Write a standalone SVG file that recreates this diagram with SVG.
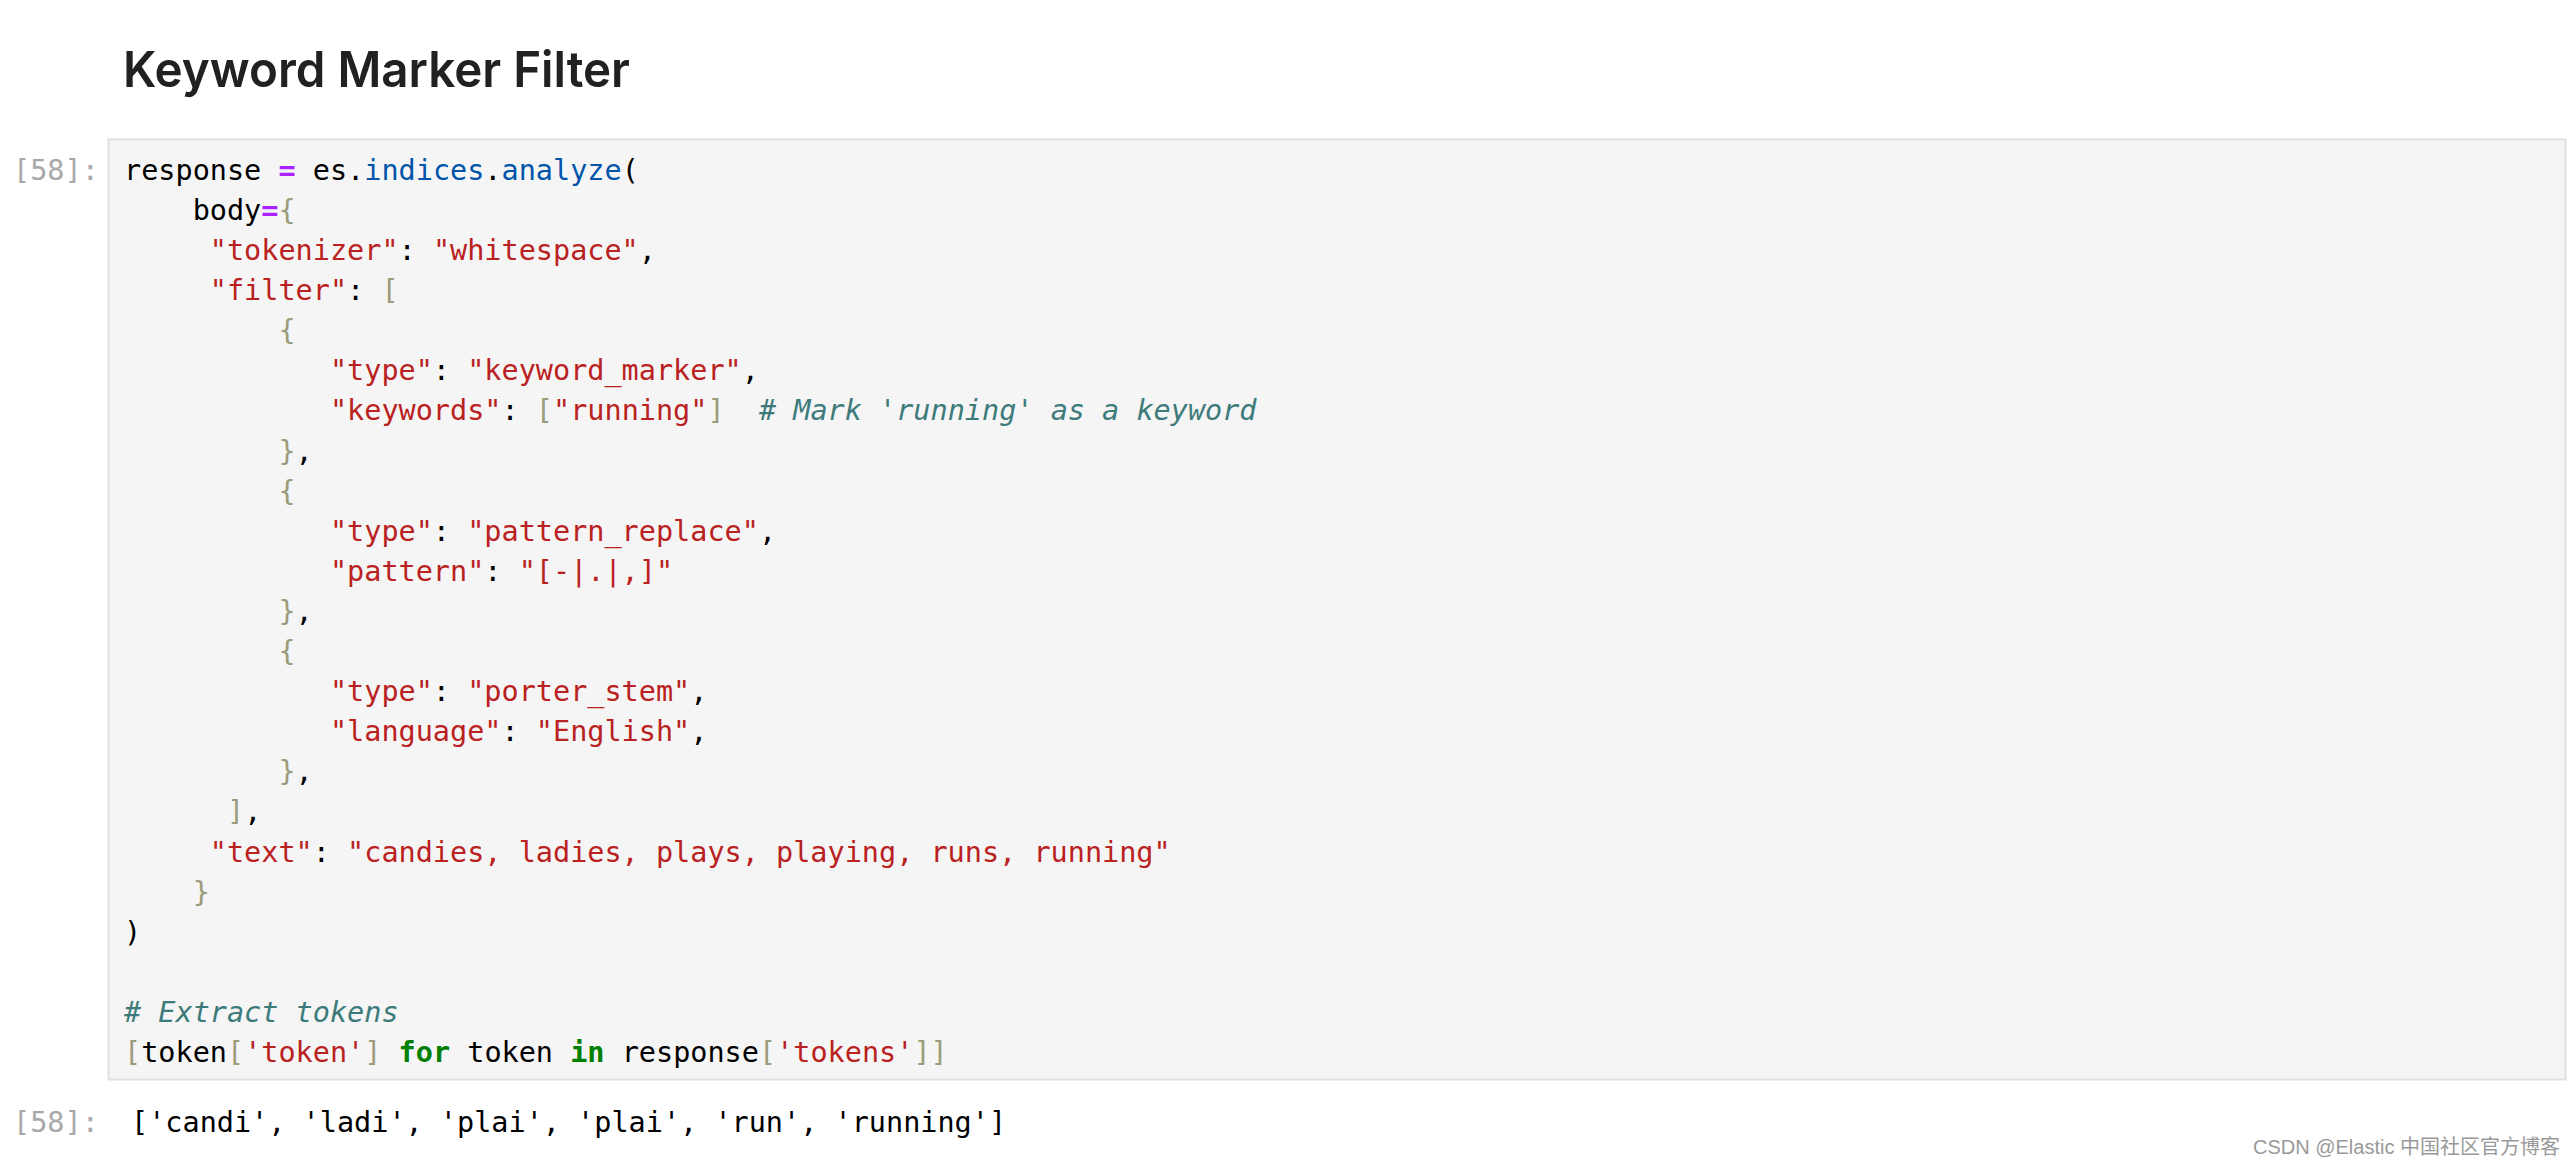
<svg xmlns="http://www.w3.org/2000/svg" width="2574" height="1166" viewBox="0 0 2574 1166">
<style>
.c{font-family:"DejaVu Sans Mono","Liberation Mono",monospace;font-size:28.5px;fill:#000;white-space:pre}
.p{font-family:"DejaVu Sans Mono","Liberation Mono",monospace;font-size:28.5px;fill:#a8a8a8}
.s{fill:#ba2121}.o{fill:#9c9c7c}.e{fill:#aa22ff;font-weight:bold}.b{fill:#0055aa}
.m{fill:#3d7b7b;font-style:italic}.k{fill:#008000;font-weight:bold}
</style>
<rect width="2574" height="1166" fill="#fff"/>
<g id="title"><text x="123" y="87" font-family="Inter,'Liberation Sans',sans-serif" font-size="50" font-weight="600" fill="#212121" textLength="507" lengthAdjust="spacingAndGlyphs">Keyword Marker Filter</text></g>
<g id="code-cell">
<rect x="108.5" y="139.5" width="2457" height="940" fill="#f5f5f5" stroke="#e0e0e0" stroke-width="2"/>
<text class="p" x="13" y="180">[58]:</text>
<text class="c" x="124" y="180" xml:space="preserve">response <tspan class="e">=</tspan> es.<tspan class="b">indices</tspan>.<tspan class="b">analyze</tspan>(</text>
<text class="c" x="124" y="220" xml:space="preserve">    body<tspan class="e">=</tspan><tspan class="o">{</tspan></text>
<text class="c" x="124" y="260" xml:space="preserve">     <tspan class="s">"tokenizer"</tspan>: <tspan class="s">"whitespace"</tspan>,</text>
<text class="c" x="124" y="300" xml:space="preserve">     <tspan class="s">"filter"</tspan>: <tspan class="o">[</tspan></text>
<text class="c" x="124" y="340" xml:space="preserve">         <tspan class="o">{</tspan></text>
<text class="c" x="124" y="380" xml:space="preserve">            <tspan class="s">"type"</tspan>: <tspan class="s">"keyword_marker"</tspan>,</text>
<text class="c" x="124" y="420" xml:space="preserve">            <tspan class="s">"keywords"</tspan>: <tspan class="o">[</tspan><tspan class="s">"running"</tspan><tspan class="o">]</tspan>  <tspan class="m"># Mark 'running' as a keyword</tspan></text>
<text class="c" x="124" y="461" xml:space="preserve">         <tspan class="o">}</tspan>,</text>
<text class="c" x="124" y="501" xml:space="preserve">         <tspan class="o">{</tspan></text>
<text class="c" x="124" y="541" xml:space="preserve">            <tspan class="s">"type"</tspan>: <tspan class="s">"pattern_replace"</tspan>,</text>
<text class="c" x="124" y="581" xml:space="preserve">            <tspan class="s">"pattern"</tspan>: <tspan class="s">"[-|.|,]"</tspan></text>
<text class="c" x="124" y="621" xml:space="preserve">         <tspan class="o">}</tspan>,</text>
<text class="c" x="124" y="661" xml:space="preserve">         <tspan class="o">{</tspan></text>
<text class="c" x="124" y="701" xml:space="preserve">            <tspan class="s">"type"</tspan>: <tspan class="s">"porter_stem"</tspan>,</text>
<text class="c" x="124" y="741" xml:space="preserve">            <tspan class="s">"language"</tspan>: <tspan class="s">"English"</tspan>,</text>
<text class="c" x="124" y="781" xml:space="preserve">         <tspan class="o">}</tspan>,</text>
<text class="c" x="124" y="821" xml:space="preserve">      <tspan class="o">]</tspan>,</text>
<text class="c" x="124" y="862" xml:space="preserve">     <tspan class="s">"text"</tspan>: <tspan class="s">"candies, ladies, plays, playing, runs, running"</tspan></text>
<text class="c" x="124" y="902" xml:space="preserve">    <tspan class="o">}</tspan></text>
<text class="c" x="124" y="942">)</text>
<text class="c" x="124" y="1022"><tspan class="m"># Extract tokens</tspan></text>
<text class="c" x="124" y="1062" xml:space="preserve"><tspan class="o">[</tspan>token<tspan class="o">[</tspan><tspan class="s">'token'</tspan><tspan class="o">]</tspan> <tspan class="k">for</tspan> token <tspan class="k">in</tspan> response<tspan class="o">[</tspan><tspan class="s">'tokens'</tspan><tspan class="o">]]</tspan></text>
</g>
<g id="output">
<text class="p" x="13" y="1132">[58]:</text>
<text class="c" x="131" y="1132" xml:space="preserve">['candi', 'ladi', 'plai', 'plai', 'run', 'running']</text>
</g>
<text x="2560" y="1154" text-anchor="end" font-family="'Liberation Sans','Noto Sans CJK SC',sans-serif" font-size="20" fill="#999">CSDN @Elastic 中国社区官方博客</text>
</svg>
